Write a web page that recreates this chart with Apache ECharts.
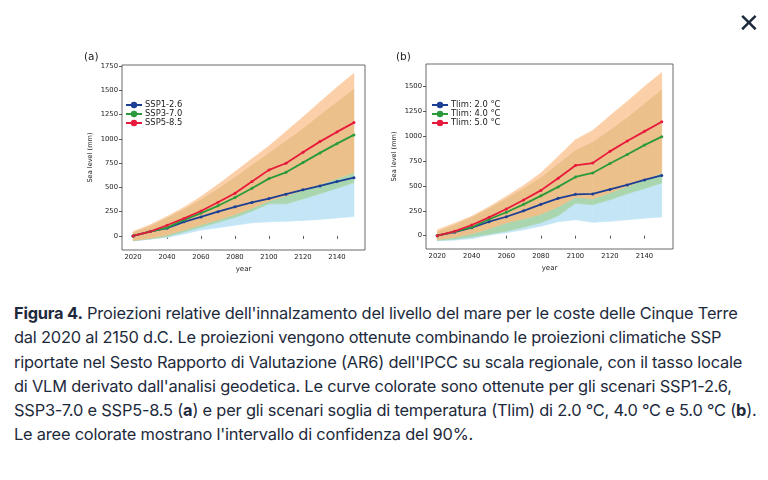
<!DOCTYPE html>
<html>
<head>
<meta charset="utf-8">
<script src="https://cdn.jsdelivr.net/npm/echarts@6/dist/echarts.min.js"></script>
<style>
  html, body { margin: 0; padding: 0; background: #fff; }
  #chart { position: absolute; left: 0; top: 0; width: 768px; height: 290px; }
  #close { position: absolute; left: 738px; top: 8px; font: 300 26px "DejaVu Sans", sans-serif; color: #1d2a3c; }
  #caption { position: absolute; left: 14px; top: 301px; font-family: Inter, sans-serif; font-size: 16.4px;
             line-height: 24.3px; color: #1d2a3c; letter-spacing: -0.2px; white-space: nowrap; }
</style>
</head>
<body>
<div id="chart"></div>
<div id="close">✕</div>
<div id="caption">
  <b>Figura 4.</b> Proiezioni relative dell'innalzamento del livello del mare per le coste delle Cinque Terre<br>
  dal 2020 al 2150 d.C. Le proiezioni vengono ottenute combinando le proiezioni climatiche SSP<br>
  riportate nel Sesto Rapporto di Valutazione (AR6) dell'IPCC su scala regionale, con il tasso locale<br>
  di VLM derivato dall'analisi geodetica. Le curve colorate sono ottenute per gli scenari SSP1-2.6,<br>
  SSP3-7.0 e SSP5-8.5 (<b>a</b>) e per gli scenari soglia di temperatura (Tlim) di 2.0 °C, 4.0 °C e 5.0 °C (<b>b</b>).<br>
  Le aree colorate mostrano l'intervallo di confidenza del 90%.
</div>
<script>
const years = [2020, 2030, 2040, 2050, 2060, 2070, 2080, 2090, 2100, 2110, 2120, 2130, 2140, 2150]
const xTicks = [2020, 2040, 2060, 2080, 2100, 2120, 2140]
const yTicksA = [0, 250, 500, 750, 1000, 1250, 1500, 1750]
const yTicksB = [0, 250, 500, 750, 1000, 1250, 1500]

// panel (a): scenarios SSP
const namesA = ['SSP1-2.6', 'SSP3-7.0', 'SSP5-8.5']
const ssp126 = [0, 45, 80, 145, 195, 250, 300, 345, 385, 430, 475, 515, 560, 600]
const ssp370 = [0, 45, 85, 165, 235, 310, 395, 490, 590, 655, 755, 855, 950, 1040]
const ssp585 = [0, 45, 110, 180, 257, 347, 440, 560, 680, 748, 861, 971, 1071, 1167]
// band boundaries (a), bottom to top: light blue | green | tan | peach
const bandA0 = [-52, -35, -15, 20, 60, 85, 110, 135, 145, 150, 160, 170, 185, 200]
const bandA1 = [-50, -30, -6, 40, 90, 140, 190, 255, 330, 330, 380, 435, 490, 549]
const bandA2 = [-47, -25, 10, 60, 113, 165, 220, 285, 360, 410, 470, 530, 590, 652]
const bandA3 = [40, 105, 190, 280, 380, 490, 610, 735, 860, 985, 1110, 1250, 1385, 1520]
const bandA4 = [45, 115, 200, 295, 405, 530, 662, 795, 927, 1075, 1225, 1380, 1530, 1675]

// panel (b): temperature thresholds
const namesB = ['Tlim: 2.0 °C', 'Tlim: 4.0 °C', 'Tlim: 5.0 °C']
const tlim2 = [0, 35, 80, 140, 190, 250, 315, 375, 415, 419, 465, 510, 560, 605]
const tlim4 = [0, 40, 85, 165, 235, 315, 400, 490, 590, 630, 725, 815, 910, 995]
const tlim5 = [0, 44, 107, 184, 268, 358, 455, 576, 706, 730, 847, 951, 1048, 1145]
const bandB0 = [-50, -45, -30, 5, 30, 60, 95, 140, 160, 134, 144, 160, 175, 188]
const bandB1 = [-48, -35, -14, 15, 45, 85, 130, 200, 325, 310, 360, 420, 475, 529]
const bandB2 = [-40, -15, 20, 70, 127, 170, 215, 290, 385, 370, 430, 495, 560, 630]
const bandB3 = [44, 115, 190, 280, 378, 480, 589, 725, 864, 945, 1065, 1192, 1332, 1474]
const bandB4 = [60, 125, 194, 290, 395, 505, 629, 795, 964, 1058, 1205, 1349, 1500, 1640]

const lineColors = ['#1c3f95', '#2a9a3c', '#e8193c']
const bandColors = ['#c3e5f6', '#a9d6af', '#ecc08a', '#fbd0a9']

const chart = echarts.init(document.getElementById('chart'))

const band = (gi, lo, hi, color) => ({
  type: 'custom',
  xAxisIndex: gi,
  yAxisIndex: gi,
  silent: true,
  z: 1,
  data: years.map((y, i) => [y, lo[i], hi[i]]),
  renderItem: (params, api) => {
    const i = params.dataIndex
    if (i >= years.length - 1) return null
    const pts = [
      api.coord([years[i], lo[i]]),
      api.coord([years[i], hi[i]]),
      api.coord([years[i + 1], hi[i + 1]]),
      api.coord([years[i + 1], lo[i + 1]])
    ]
    return { type: 'polygon', shape: { points: pts }, style: { fill: color, stroke: color, lineWidth: 0.6 } }
  }
})

const bandsFor = (gi, b) => [
  band(gi, b[0], b[1], bandColors[0]),
  band(gi, b[1], b[2], bandColors[1]),
  band(gi, b[2], b[3], bandColors[2]),
  band(gi, b[3], b[4], bandColors[3])
]

const line = (gi, name, vals, color) => ({
  type: 'line',
  name,
  xAxisIndex: gi,
  yAxisIndex: gi,
  z: 3,
  data: years.map((y, i) => [y, vals[i]]),
  symbol: 'circle',
  symbolSize: 3,
  showSymbol: true,
  color,
  lineStyle: { width: 1.8, color },
  itemStyle: { color },
  animation: false
})

const plain = v => String(v)

const xAxis = gi => ({
  type: 'value',
  gridIndex: gi,
  min: 2013.5,
  max: 2156.5,
  name: 'year',
  nameLocation: 'middle',
  nameGap: 16,
  nameTextStyle: { fontFamily: 'DejaVu Sans', fontSize: 7, color: '#222' },
  axisLine: { show: false },
  axisTick: { show: true, length: 3, customValues: xTicks, lineStyle: { color: '#333', width: 0.8 } },
  axisLabel: { customValues: xTicks, formatter: plain, fontFamily: 'DejaVu Sans', fontSize: 6.8, color: '#222', margin: 4 },
  splitLine: { show: false }
})

const yAxis = (gi, min, max, ticks) => ({
  type: 'value',
  gridIndex: gi,
  min,
  max,
  name: 'Sea level (mm)',
  nameLocation: 'middle',
  nameGap: 28,
  nameTextStyle: { fontFamily: 'DejaVu Sans', fontSize: 6.6, color: '#222' },
  axisLine: { show: false },
  axisTick: { show: true, length: 3, customValues: ticks, lineStyle: { color: '#333', width: 0.8 } },
  axisLabel: { customValues: ticks, formatter: plain, fontFamily: 'DejaVu Sans', fontSize: 6.8, color: '#222', margin: 4 },
  splitLine: { show: false }
})

const legend = (left, names) => ({
  left,
  top: 96,
  orient: 'vertical',
  itemGap: 1,
  itemWidth: 16,
  itemHeight: 8,
  data: names,
  textStyle: { fontFamily: 'DejaVu Sans', fontSize: 8.4, color: '#222', padding: [0, 0, 0, -2] }
})

chart.setOption({
  animation: false,
  textStyle: { fontFamily: 'DejaVu Sans' },
  title: [
    { text: '(a)', left: 79, top: 47, textStyle: { fontSize: 10.5, fontWeight: 'normal', color: '#222' } },
    { text: '(b)', left: 391, top: 47, textStyle: { fontSize: 10.5, fontWeight: 'normal', color: '#222' } }
  ],
  grid: [
    { left: 122, top: 65, width: 243, height: 185, show: true, borderColor: '#444', borderWidth: 0.8, backgroundColor: 'transparent' },
    { left: 426, top: 64, width: 247, height: 185, show: true, borderColor: '#444', borderWidth: 0.8, backgroundColor: 'transparent' }
  ],
  legend: [legend(120, namesA), legend(426, namesB)],
  xAxis: [xAxis(0), xAxis(1)],
  yAxis: [yAxis(0, -145, 1760, yTicksA), yAxis(1, -134, 1725, yTicksB)],
  series: [
    ...bandsFor(0, [bandA0, bandA1, bandA2, bandA3, bandA4]),
    ...bandsFor(1, [bandB0, bandB1, bandB2, bandB3, bandB4]),
    line(0, namesA[0], ssp126, lineColors[0]),
    line(0, namesA[1], ssp370, lineColors[1]),
    line(0, namesA[2], ssp585, lineColors[2]),
    line(1, namesB[0], tlim2, lineColors[0]),
    line(1, namesB[1], tlim4, lineColors[1]),
    line(1, namesB[2], tlim5, lineColors[2])
  ]
})
</script>
</body>
</html>
